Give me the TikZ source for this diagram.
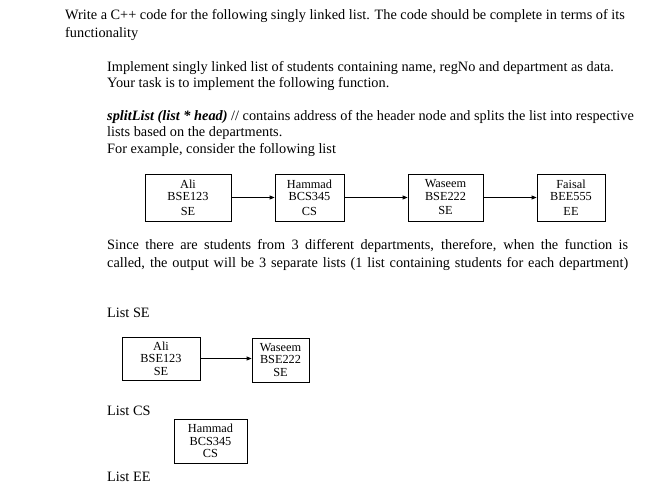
\documentclass[tikz,border=0pt]{standalone}
\usepackage{fontspec}
\setmainfont{Liberation Serif}
\usetikzlibrary{arrows.meta}
\begin{document}
\begin{tikzpicture}[x=1pt,y=-1pt,
 txt/.style={anchor=west,inner sep=0pt,font=\fontsize{14.3}{16}\selectfont},
 rec/.style={draw,line width=0.8pt,align=center,inner sep=0pt,font=\fontsize{12.3}{12.5}\selectfont},
 arr/.style={-{Triangle[length=5pt,width=4pt]},line width=0.8pt}]
\useasboundingbox (0,0) rectangle (671,499);
\node[txt] (t1) at (65,16) {Write a C++ code for the following singly linked list. The code should be complete in terms of its};
\node[txt] (t2) at (65,34) {functionality};
\node[txt] (t3) at (107,68) {Implement singly linked list of students containing name, regNo and department as data.};
\node[txt] (t4) at (107,84) {Your task is to implement the following function.};
\node[txt] (t5) at (107,117) {\textbf{\textit{splitList (list * head)}} // contains address of the header node and splits the list into respective};
\node[txt] (t6) at (107,133) {lists based on the departments.};
\node[txt] (t7) at (107,150) {For example, consider the following list};
\node[txt] (t8) at (107,246) {\makebox[521pt][s]{Since there are students from 3 different departments, therefore, when the function is}};
\node[txt] (t9) at (107,264) {\makebox[521pt][s]{called, the output will be 3 separate lists (1 list containing students for each department)}};
\node[txt] (l1) at (107,313) {List SE};
\node[txt] (l2) at (107,411) {List CS};
\node[txt] (l3) at (107,477) {List EE};
\node[rec,minimum width=86pt,minimum height=47pt] (a) at (188,197.5) {Ali\\BSE123\\[2pt]SE};
\node[rec,minimum width=69pt,minimum height=47pt] (b) at (309.5,197.5) {Hammad\\BCS345\\[2pt]CS};
\node[rec,minimum width=75pt,minimum height=47pt] (c) at (445.5,197.5) {Waseem\\BSE222\\[2pt]SE};
\node[rec,minimum width=68pt,minimum height=47pt] (d) at (571,197.5) {Faisal\\BEE555\\[2pt]EE};
\draw[arr] (a) -- (b);
\draw[arr] (b) -- (c);
\draw[arr] (c) -- (d);
\node[rec,minimum width=78pt,minimum height=43pt] (e) at (161,358.5) {Ali\\BSE123\\SE};
\node[rec,minimum width=57pt,minimum height=44pt] (f) at (280.5,360) {Waseem\\BSE222\\SE};
\draw[arr] (e) -- (f.west|-e);
\node[rec,minimum width=73pt,minimum height=44pt] (g) at (210.5,441) {Hammad\\BCS345\\CS};
\end{tikzpicture}
\end{document}
